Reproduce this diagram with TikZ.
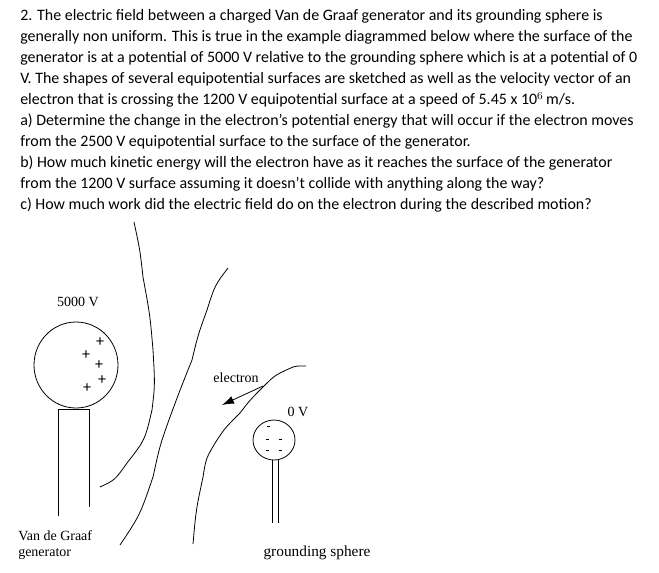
\documentclass[tikz,border=0pt]{standalone}
\usepackage{fontspec}
\usetikzlibrary{arrows.meta}
\setmainfont{Carlito}
\newfontfamily\figfont{Liberation Serif}
\begin{document}
\begin{tikzpicture}[x=0.75pt,y=-0.75pt,
  qline/.style={anchor=west,inner sep=0pt,font=\fontsize{11.95pt}{13pt}\selectfont},
  flab/.style={inner sep=0pt,font=\figfont\fontsize{10.5pt}{11.5pt}\selectfont,align=left},
  curve/.style={line width=0.6pt}]
\useasboundingbox (0,0) rectangle (659,572);
\node[qline] (l1) at (20,16) {2. The electric field between a charged Van de Graaf generator and its grounding sphere is};
\node[qline] (l2) at (20,37) {generally non uniform. This is true in the example diagrammed below where the surface of the};
\node[qline] (l3) at (20,58) {generator is at a potential of 5000 V relative to the grounding sphere which is at a potential of 0};
\node[qline] (l4) at (20,79) {V. The shapes of several equipotential surfaces are sketched as well as the velocity vector of an};
\node[qline] (l5) at (20,100) {electron that is crossing the 1200 V equipotential surface at a speed of 5.45 x 10$^{6}$\,m/s.};
\node[qline] (l6) at (20,121) {a) Determine the change in the electron’s potential energy that will occur if the electron moves};
\node[qline] (l7) at (20,142) {from the 2500 V equipotential surface to the surface of the generator.};
\node[qline] (l8) at (20,163) {b) How much kinetic energy will the electron have as it reaches the surface of the generator};
\node[qline] (l9) at (20,184) {from the 1200 V surface assuming it doesn’t collide with anything along the way?};
\node[qline] (l10) at (20,205) {c) How much work did the electric field do on the electron during the described motion?};
% generator
\draw[curve] (76,365) ellipse [x radius=42, y radius=43];
\draw[curve] (58,409) -- (89,409);
\draw[curve] (58,409) -- (58,516);
\draw[curve] (89,409) -- (89,507);
\foreach \x/\y in {100/342,86/355,99/365,102/380,87/388} \node[flab,font=\fontsize{12pt}{12pt}\selectfont] at (\x,\y) {+};
\node[flab] (v5000) at (78,302) {5000 V};
\node[flab,anchor=west] (vdg) at (18,545) {Van de Graaf\\generator};
% curves
\draw[curve] (134,222) .. controls (140,250) .. (143,277) .. controls (150,315) .. (153,350) .. controls (155,385) .. (152,410) .. controls (145,440) .. (127,463) .. controls (115,480) .. (100,487);
\draw[curve] (228,268) .. controls (215,285) .. (207,310) .. controls (198,335) .. (192,360) .. controls (180,390) .. (170,417) .. controls (160,445) .. (153,477) .. controls (140,515) .. (120,545);
\draw[curve] (306,366) .. controls (296,366) .. (293,367) .. controls (275,375) .. (263,387) .. controls (250,400) .. (240,413) .. controls (225,428) .. (217,440) .. controls (206,458) .. (203,477) .. controls (196,510) .. (193,544);
% electron arrow
\coordinate (atail) at (263,386);
\coordinate (ahead) at (222,405);
\draw[line width=0.6pt,-{Latex[length=9pt,width=6pt]}] (atail) -- (ahead);
\node[flab] (el) at (236,378) {electron};
% grounding sphere
\draw[curve] (274,440) ellipse [x radius=21, y radius=20];
\draw[curve] (272,460) -- (272,523);
\draw[curve] (278,460) -- (278,523);
\foreach \x/\y in {268/426,267/439,280/439,267/450,280/450} \draw[line width=0.5pt] (\x-1.5,\y) -- (\x+1.5,\y);
\node[flab] (v0) at (298,412) {0 V};
\node[flab,font=\figfont\fontsize{11.5pt}{12pt}\selectfont] (gs) at (317,553) {grounding sphere};
\end{tikzpicture}
\end{document}
